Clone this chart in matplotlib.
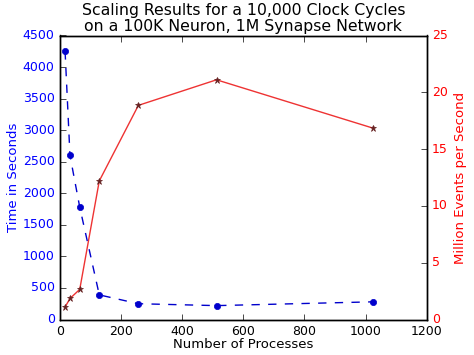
import matplotlib
matplotlib.use("Agg")
import matplotlib.pyplot as plt

# data
procs = [16, 32, 64, 128, 256, 512, 1024]
time_sec = [4250, 2600, 1780, 390, 250, 220, 280]
events_m = [1.1, 1.85, 2.65, 12.2, 18.85, 21.1, 16.85]

plt.style.use('classic')
fig, ax = plt.subplots(figsize=(4.74, 3.55), dpi=100)
fig.patch.set_facecolor('white')

ax.plot(procs, time_sec, 'o--', color='#0000cc', markeredgecolor='#0000cc',
        markersize=4.5, linewidth=1)
ax.set_xlim(0, 1200)
ax.set_ylim(0, 4500)
ax.set_xlabel("Number of Processes", fontsize=9.5, labelpad=0)
ax.set_ylabel("Time in Seconds", color='blue', fontsize=9.5, labelpad=2)
for t in ax.get_yticklabels():
    t.set_color('blue')
ax.tick_params(labelsize=9)

ax2 = ax.twinx()
ax2.plot(procs, events_m, '-', color='#ee3333', linewidth=1,
         marker='*', markersize=4.5, markerfacecolor='#662222',
         markeredgecolor='#662222')
ax2.set_ylim(0, 25)
ax2.set_ylabel("Million Events per Second", color='red', fontsize=9.5, labelpad=4)
for t in ax2.get_yticklabels():
    t.set_color('red')
ax2.tick_params(labelsize=9)
ax2.set_xlim(0, 1200)

ax.set_title("Scaling Results for a 10,000 Clock Cycles\non a 100K Neuron, 1M Synapse Network",
             fontsize=11.3, linespacing=1.15, pad=3)

fig.subplots_adjust(left=0.127, right=0.9, top=0.9, bottom=0.1)
fig.savefig("out.png", dpi=100, facecolor='white')
